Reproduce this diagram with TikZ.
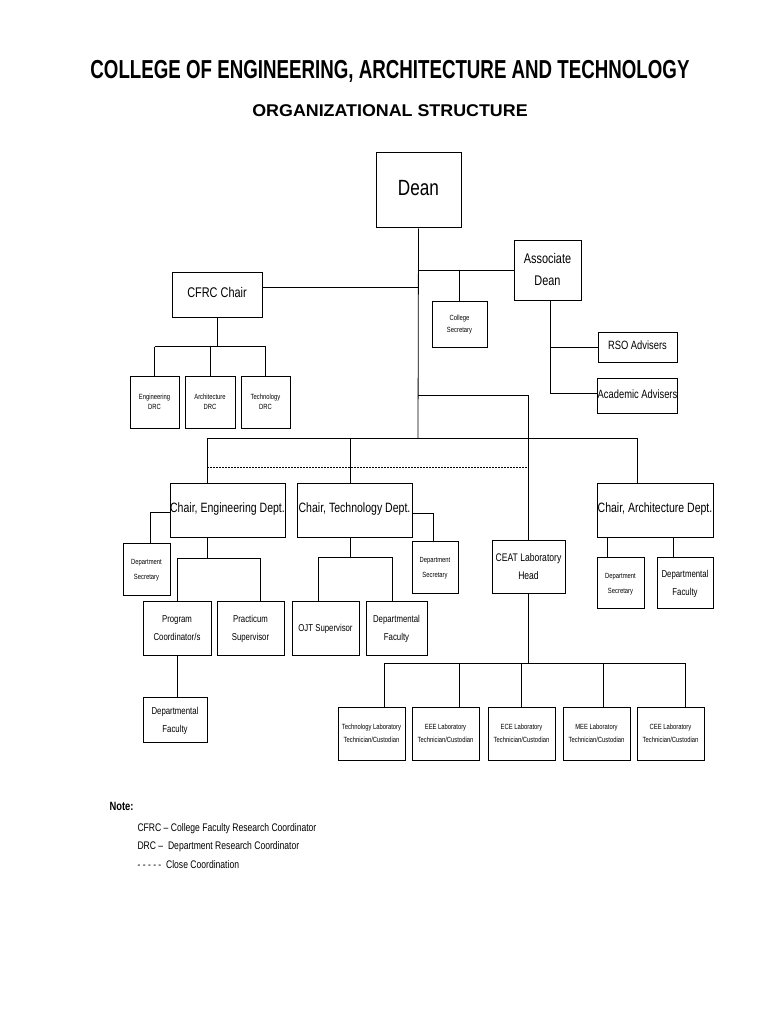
\documentclass[tikz,border=0pt]{standalone}
\usepackage{fontspec}
\setmainfont{Liberation Sans}
\newcommand\nrw[2][0.78]{\scalebox{#1}[1]{\begin{tabular}{@{}c@{}}#2\end{tabular}}}
\begin{document}
\begin{tikzpicture}[x=1pt,y=-1pt,
  bx/.style={draw,line width=1pt,align=center,inner sep=0pt},
  ln/.style={line width=0.8pt}]
\useasboundingbox (0,0) rectangle (768,1024);
\newcommand\bxat[7]{\node[bx,minimum width=#3-#1,minimum height=#4-#2,font=#6] (#5) at ({(#1+#3)/2},{(#2+#4)/2}) {\nrw{#7}};}
\node[font=\bfseries\fontsize{26}{26}\selectfont] (t1) at (390,73) {\nrw[0.72]{COLLEGE OF ENGINEERING, ARCHITECTURE AND TECHNOLOGY}};
\node[font=\bfseries\fontsize{17}{17}\selectfont] (t2) at (390,113) {\nrw[1.05]{ORGANIZATIONAL STRUCTURE}};
\bxat{376}{153}{461}{228}{dean}{\fontsize{22}{24}\selectfont}{Dean}
\bxat{514}{240}{581}{300}{ad}{\fontsize{14}{22}\selectfont}{Associate\\Dean}
\bxat{432}{301}{487}{347}{cs}{\fontsize{7.5}{12}\selectfont}{College\\Secretary}
\bxat{172}{272}{262}{317}{cfrc}{\fontsize{14}{15}\selectfont}{CFRC Chair}
\bxat{130}{376}{179}{428}{edrc}{\fontsize{7.5}{10}\selectfont}{Engineering\\DRC}
\bxat{185}{376}{235}{428}{adrc}{\fontsize{7.5}{10}\selectfont}{Architecture\\DRC}
\bxat{241}{376}{290}{428}{tdrc}{\fontsize{7.5}{10}\selectfont}{Technology\\DRC}
\bxat{598}{332}{677}{362}{rso}{\fontsize{12}{13}\selectfont}{RSO Advisers}
\bxat{598}{378}{677}{413}{aca}{\fontsize{12}{13}\selectfont}{Academic Advisers}
\bxat{170}{483}{285}{537}{ce}{\fontsize{13.5}{14}\selectfont}{Chair, Engineering Dept.}
\bxat{297}{483}{412}{537}{ct}{\fontsize{13.5}{14}\selectfont}{Chair, Technology Dept.}
\bxat{597}{483}{713}{537}{ca}{\fontsize{13.5}{14}\selectfont}{Chair, Architecture Dept.}
\bxat{492}{540}{565}{593}{lab}{\fontsize{11}{18}\selectfont}{CEAT Laboratory\\Head}
\bxat{123}{543}{170}{595}{es}{\fontsize{7.5}{15}\selectfont}{Department\\Secretary}
\bxat{143}{601}{211}{655}{pc}{\fontsize{10}{18}\selectfont}{Program\\Coordinator/s}
\bxat{217}{601}{284}{655}{ps}{\fontsize{10}{18}\selectfont}{Practicum\\Supervisor}
\bxat{143}{697}{207}{742}{ef}{\fontsize{10}{18}\selectfont}{Departmental\\Faculty}
\bxat{412}{541}{458}{593}{ts}{\fontsize{7.5}{15}\selectfont}{Department\\Secretary}
\bxat{292}{601}{359}{655}{ojt}{\fontsize{10}{18}\selectfont}{OJT Supervisor}
\bxat{366}{601}{427}{655}{tf}{\fontsize{10}{18}\selectfont}{Departmental\\Faculty}
\bxat{597}{557}{644}{608}{as}{\fontsize{7.5}{15}\selectfont}{Department\\Secretary}
\bxat{657}{557}{713}{608}{af}{\fontsize{10}{18}\selectfont}{Departmental\\Faculty}
\bxat{338}{707}{405}{760}{l1}{\fontsize{7.5}{13}\selectfont}{Technology Laboratory\\Technician/Custodian}
\bxat{412}{707}{479}{760}{l2}{\fontsize{7.5}{13}\selectfont}{EEE Laboratory\\Technician/Custodian}
\bxat{488}{707}{555}{760}{l3}{\fontsize{7.5}{13}\selectfont}{ECE Laboratory\\Technician/Custodian}
\bxat{563}{707}{630}{760}{l4}{\fontsize{7.5}{13}\selectfont}{MEE Laboratory\\Technician/Custodian}
\bxat{637}{707}{704}{760}{l5}{\fontsize{7.5}{13}\selectfont}{CEE Laboratory\\Technician/Custodian}
% connectors
\draw[ln] (dean.south) -- (418,438);
\draw[ln] (418,270) -- (ad.west |- 418,270);
\draw[ln] (cs.north) ++(0,-31) -- (cs.north);
\draw[ln] (cfrc.east |- 0,287) -- (418,287);
\draw[ln] (cfrc.south) -- ++(0,29) coordinate (c1);
\draw[ln] (edrc.north |- c1) -- (tdrc.north |- c1);
\draw[ln] (edrc.north |- c1) -- (edrc.north);
\draw[ln] (adrc.north |- c1) -- (adrc.north);
\draw[ln] (tdrc.north |- c1) -- (tdrc.north);
\draw[ln] (550,300) -- (550,393);
\draw[ln] (550,347) -- (rso.west);
\draw[ln] (550,393) -- (aca.west |- 0,393);
\draw[ln] (418,395) -- (lab.north |- 0,395) -- (lab.north);
\draw[ln] (207,438) -- (637,438);
\draw[ln] (207,438) -- (ce.north -| 207,0);
\draw[ln] (350,438) -- (ct.north -| 350,0);
\draw[ln] (637,438) -- (ca.north -| 637,0);
\draw[line width=0.8pt,dash pattern=on 2pt off 1pt] (207,467) -- (lab.north |- 0,467);
\draw[ln] (ce.west |- 0,512) -- (150,512) -- (es.north -| 150,0);
\draw[ln] (207,537) -- (207,558);
\draw[ln] (177,558) -- (260,558);
\draw[ln] (177,558) -- (pc.north -| 177,0);
\draw[ln] (260,558) -- (ps.north -| 260,0);
\draw[ln] (pc.south -| 177,0) -- (ef.north -| 177,0);
\draw[ln] (350,537) -- (350,557);
\draw[ln] (318,557) -- (392,557);
\draw[ln] (318,557) -- (ojt.north -| 318,0);
\draw[ln] (392,557) -- (tf.north -| 392,0);
\draw[ln] (ct.east |- 0,513) -- (433,513) -- (ts.north -| 433,0);
\draw[ln] (607,537) -- (as.north -| 607,0);
\draw[ln] (673,537) -- (af.north -| 673,0);
\draw[ln] (lab.south) -- (lab.south |- 0,663);
\draw[ln] (384,663) -- (685,663);
\foreach \xx/\b in {384/l1,459/l2,603/l4,685/l5} \draw[ln] (\xx,663) -- (\b.north -| \xx,0);
\draw[ln] (l3.north |- 0,663) -- (l3.north);
% note
\node[anchor=west,font=\bfseries\fontsize{12}{13}\selectfont] (n0) at (106,808) {\nrw{Note:}};
\node[anchor=west,font=\fontsize{11}{12}\selectfont] (n1) at (134,829) {\nrw{CFRC -- College Faculty Research Coordinator}};
\node[anchor=west,font=\fontsize{11}{12}\selectfont] (n2) at (134,847) {\nrw{DRC --\ \ Department Research Coordinator}};
\node[anchor=west,font=\fontsize{11}{12}\selectfont] (n3) at (134,866) {\nrw{- - - - -\ \ Close Coordination}};
\end{tikzpicture}
\end{document}
